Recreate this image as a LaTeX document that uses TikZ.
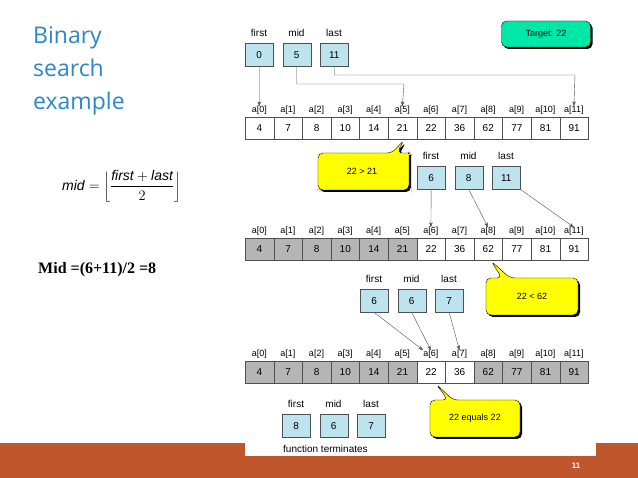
\documentclass[tikz,border=0pt]{standalone}
\usepackage{fontspec}
\setmainfont{Liberation Sans}
\newfontfamily\serifft{Liberation Serif}
\newfontfamily\lightsans{Open Sans}
\usetikzlibrary{shadows,arrows.meta}
\definecolor{ptrblue}{HTML}{BDE3EE}
\definecolor{cellgray}{HTML}{B5B5B5}
\definecolor{tgtgreen}{HTML}{00E8A8}
\definecolor{callyel}{HTML}{FFFF00}
\definecolor{barorange}{HTML}{C0562B}
\definecolor{titleblue}{HTML}{2E86C8}
\definecolor{linegray}{HTML}{505050}
\tikzset{
 cell/.style={draw=linegray,minimum width=28.6pt,minimum height=22pt,inner sep=0pt,font=\fontsize{10}{12}\selectfont,anchor=north west},
 idx/.style={font=\fontsize{9}{11}\selectfont,inner sep=0pt},
 ptr/.style={draw=linegray,fill=ptrblue,minimum width=28pt,minimum height=23pt,inner sep=0pt,font=\fontsize{10}{12}\selectfont,anchor=north west},
 plabel/.style={font=\fontsize{10}{12}\selectfont,inner sep=0pt},
 conn/.style={draw=linegray,-{Stealth[length=5pt,width=3.5pt]}},
 callout/.style={fill=callyel,draw=black,rounded corners=5pt,drop shadow={shadow xshift=2pt,shadow yshift=-2pt,fill=black,opacity=1}},
}
\begin{document}
\begin{tikzpicture}[x=1pt,y=-1pt]
\useasboundingbox (0,0) rectangle (638,478);
\fill[white] (0,0) rectangle (638,478);
% bottom bar
\fill[barorange] (0,443) rectangle (638,478);
\fill[white] (245,440) rectangle (596,456);
\node[text=white,font=\bfseries\fontsize{8}{10}\selectfont] (pg) at (576,466) {11};
% title
\node[anchor=north west,align=left,text=titleblue,font=\lightsans\fontsize{23}{33}\selectfont,inner sep=0pt] (title) at (33,26) {Binary\\search\\example};
\node[anchor=west,inner sep=0pt] (formula) at (62,186) {\fontsize{14}{16}\selectfont$\mathit{mid} = \left\lfloor \displaystyle\frac{\mathit{first}+\mathit{last}}{2}\right\rfloor$};
\node[anchor=west,inner sep=0pt,font=\serifft\bfseries\fontsize{16}{18}\selectfont] (midcalc) at (38,270) {Mid =(6+11)/2 =8};
% arrays
\def\vals{4,7,8,10,14,21,22,36,62,77,81,91}
\foreach \r/\y/\shade in {1/117/0,2/238/1,3/361/2}{
 \foreach \v [count=\i from 0] in \vals {
  \pgfmathtruncatemacro\g{(\shade==1 && \i<6) || (\shade==2 && (\i<6 || \i>7)) ? 1 : 0}
  \ifnum\g=1 \def\fc{cellgray}\else\def\fc{white}\fi
  \node[cell,fill=\fc] (c\r-\i) at ({245+28.6*\i},\y) {\v};
  \node[idx,anchor=base] (l\r-\i) at ({259.3+28.6*\i},{\y-4}) {a[\i]};
 }
}
% pointer boxes
\foreach \name/\x/\y/\f/\m/\l in {p1/245/43/0/5/11, p2/417/166/6/8/11, p3/360/289/6/6/7, p4/282/414/8/6/7}{
 \node[ptr] (\name f) at (\x,\y) {\f};
 \node[ptr] (\name m) at ({\x+37.5},\y) {\m};
 \node[ptr] (\name l) at ({\x+75},\y) {\l};
 \node[plabel,anchor=base] (\name fl) at ({\x+14},{\y-6}) {first};
 \node[plabel,anchor=base] (\name ml) at ({\x+51.5},{\y-6}) {mid};
 \node[plabel,anchor=base] (\name ll) at ({\x+89},{\y-6}) {last};
}
\node[plabel,anchor=base west] (term) at (283,453) {function terminates};
% target
\node[fill=tgtgreen,draw=black,rounded corners=5pt,minimum width=89pt,minimum height=26pt,font=\fontsize{9}{11}\selectfont,drop shadow={shadow xshift=2pt,shadow yshift=-2pt,fill=black,opacity=1}] (target) at (546,34) {Target: 22};
% callouts
\coordinate (t1) at (404,140);
\coordinate (t2) at (491,261);
\coordinate (t3) at (436,384);
\path[callout] (318,153) -- (392,153) -- (t1) -- (397,153) -- (405,153) arc[start angle=90,end angle=0,radius=4pt] -- (409,186) -- (409,190) -- (322,190) -- (318,190) -- cycle;
\node[font=\fontsize{9}{11}\selectfont] (k1) at (362,171) {22 > 21};
\path[callout] (486,278) -- (502,278) -- (t2) -- (510,278) -- (578,278) -- (578,315) -- (486,315) -- cycle;
\node[font=\fontsize{9}{11}\selectfont] (k2) at (532,296) {22 < 62};
\path[callout] (430,400) -- (448,400) -- (t3) -- (453,400) -- (520,400) -- (520,437) -- (430,437) -- cycle;
\node[font=\fontsize{9}{11}\selectfont] (k3) at (475,418) {22 equals 22};
% connectors
\draw[conn] (p1f.south) -- (l1-0.north);
\draw[conn] (p1m.south) |- (404,84) -- (l1-5.north);
\draw[conn] (p1l.south) |- (575,75) -- (l1-11.north);
\draw[conn] (p2f.south) -- (l2-6.north);
\draw[conn] (p2m.south) -- (l2-8.north);
\draw[conn] (p2l.south east) -- (l2-11.north);
\draw[conn] (p3f.south) -- (l3-6.north west);
\draw[conn] (p3m.south) -- (l3-6.north);
\draw[conn] (p3l.south) -- (l3-7.north);
\end{tikzpicture}
\end{document}
